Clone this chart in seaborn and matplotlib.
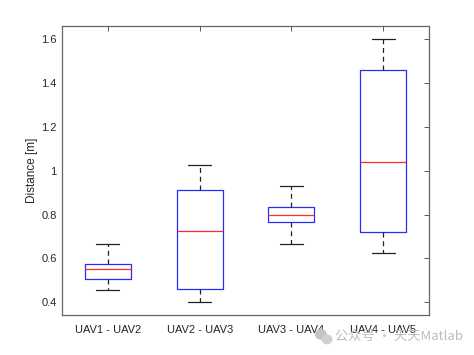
import numpy as np
import pandas as pd
import matplotlib
matplotlib.use("Agg")
import matplotlib.pyplot as plt
from matplotlib.patches import Ellipse
import seaborn as sns

### data: min, q1, median, q3, max per pair ###
pairs = ["UAV1 - UAV2", "UAV2 - UAV3", "UAV3 - UAV4", "UAV4 - UAV5"]
uav12 = [0.455, 0.507, 0.551, 0.573, 0.668]
uav23 = [0.401, 0.459, 0.723, 0.912, 1.024]
uav34 = [0.666, 0.768, 0.797, 0.833, 0.932]
uav45 = [0.625, 0.721, 1.041, 1.461, 1.600]

yticks = [0.4, 0.6, 0.8, 1.0, 1.2, 1.4, 1.6]
ytick_labels = ["0.4", "0.6", "0.8", "1", "1.2", "1.4", "1.6"]

df = pd.DataFrame({
    "pair": np.repeat(pairs, 5),
    "dist": uav12 + uav23 + uav34 + uav45,
})

sns.set_style("white")
plt.rcParams["font.family"] = ["Liberation Sans", "DejaVu Sans"]

fig = plt.figure(figsize=(4.74, 3.55), dpi=100)
ax = fig.add_axes([0.131, 0.1127, 0.774, 0.8141])

sns.boxplot(data=df, x="pair", y="dist", ax=ax, whis=(0, 100), width=0.5,
            fill=False, color="blue",
            boxprops=dict(color="#2a2aff", linewidth=0.9),
            medianprops=dict(color="#ff2a2a", linewidth=0.9),
            whiskerprops=dict(color="#222222", linewidth=0.9, linestyle=(0, (4, 3))),
            capprops=dict(color="#222222", linewidth=0.9))

ax.set_xlim(-0.5, 3.5)
ax.set_ylim(0.342, 1.66)
ax.set_yticks(yticks)
ax.set_yticklabels(ytick_labels)
ax.set_xlabel("")
ax.set_ylabel("Distance [m]", fontsize=8.5, color="#262626", labelpad=2)

ax.tick_params(direction="in", top=True, right=True, length=3.5, width=0.7,
               colors="#555555", labelsize=8, labelcolor="#262626", pad=4)
ax.tick_params(axis="x", pad=7)
for s in ax.spines.values():
    s.set_color("#666666")
    s.set_linewidth(0.9)

# watermark (wechat-like icon + text)
fig.patches.append(Ellipse((0.677, 0.058), 0.022, 0.026, transform=fig.transFigure,
                           color="#c4c4c4", zorder=5))
fig.patches.append(Ellipse((0.690, 0.044), 0.020, 0.024, transform=fig.transFigure,
                           color="#d0d0d0", zorder=5))
fig.text(0.707, 0.052, "公众号 · 天天Matlab", fontsize=9.5, color="#bdbdbd",
         family=["Noto Sans CJK SC", "DejaVu Sans"], va="center")

fig.savefig("out.png", dpi=100)
